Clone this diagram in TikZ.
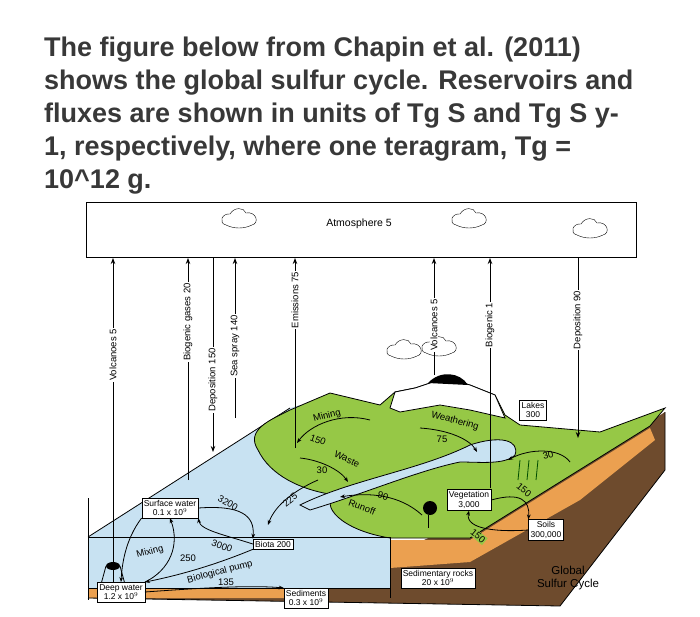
\documentclass[tikz,border=0pt]{standalone}
\usepackage{fontspec}
\setmainfont{Liberation Sans}
\usetikzlibrary{arrows.meta}
\definecolor{sea}{RGB}{200,226,242}
\definecolor{land}{RGB}{150,200,70}
\definecolor{soil}{RGB}{235,160,80}
\definecolor{rock}{RGB}{110,75,45}
\begin{document}
\begin{tikzpicture}[x=1pt,y=-1pt,
  lab/.style={font=\fontsize{9.5}{10}\selectfont,inner sep=1pt},
  rlab/.style={lab,rotate=90,fill=white},
  vbox/.style={draw,fill=white,font=\fontsize{8.5}{9.5}\selectfont,align=center,inner sep=2pt},
  flow/.style={-{Stealth[length=5pt]},thick},
  vline/.style={-{Stealth[length=6pt]},line width=1pt},
  ttl/.style={anchor=base west,font=\fontsize{27}{30}\selectfont\bfseries,text=black!78,inner sep=0pt},
  cloud/.style={draw,fill=white,thin}]
\useasboundingbox (0,0) rectangle (700,617);
\node[ttl] (t1) at (44,57) {The figure below from Chapin et al. (2011)};
\node[ttl] (t2) at (44,90) {shows the global sulfur cycle. Reservoirs and};
\node[ttl] (t3) at (44,123) {fluxes are shown in units of Tg S and Tg S y-};
\node[ttl] (t4) at (44,156) {1, respectively, where one teragram, Tg =};
\node[ttl] (t5) at (44,189) {10\^{}12 g.};
% ground shapes
\fill[rock] (88,598) -- (560,606) -- (665,470) -- (665,412) -- (560,480) -- (390,555) -- cycle;
\fill[soil] (88,585) -- (390,585) -- (390,540) -- (470,540) -- (650,428) -- (655,440) -- (580,500) -- (470,562) -- (390,568) -- (320,575) -- (300,598) -- (88,598) -- cycle;
\fill[sea] (88,537) -- (290,408) -- (300,405) -- (300,470) -- (390,537) -- (390,588) -- (88,588) -- cycle;
\draw[thick] (88,537) -- (290,408);
\draw[thick] (88,498) -- (88,600);
% land
\filldraw[fill=land,draw=black,thick] (258,450) .. controls (245,430) and (270,420) .. (290,410) -- (330,393) -- (380,405) -- (395,392) -- (415,388) -- (445,378) -- (470,385) -- (495,395) -- (505,415) -- (520,425) -- (600,432) -- (665,408) -- (650,426) -- (470,538) -- (390,538) .. controls (340,530) and (320,505) .. (335,495) .. controls (300,490) and (270,475) .. (258,450) -- cycle;
\filldraw[fill=white,draw=black,thick] (390,408) -- (395,392) -- (415,388) -- (445,378) -- (470,385) -- (495,395) -- (505,418) -- (470,410) -- (440,405) -- (400,412) -- cycle;
\fill (428,383) .. controls (440,370) and (460,372) .. (468,385) -- cycle;
\filldraw[fill=sea,draw=black,thick] (300,505) .. controls (350,480) and (420,470) .. (470,445) .. controls (500,435) and (520,440) .. (515,455) .. controls (505,465) and (480,462) .. (460,462) .. controls (420,470) and (360,495) .. (310,510) -- cycle;
% outline of front
\draw[thick] (88,537) -- (390,537);
\draw[thick] (390,537) -- (390,598);
\draw[thick] (88,588) -- (390,588);
\draw[thick] (560,606) -- (665,470) -- (665,412);
\draw[thick] (88,598) -- (560,606);
% atmosphere
\node[draw,thick,minimum width=550,minimum height=55,inner sep=0pt] (atm) at (361,230) {};
\node[lab,font=\fontsize{10.5}{11}\selectfont] (atl) at (359,224) {Atmosphere 5};
\foreach \cx/\cy in {240/219,470/219,591/229,405/350,440/347}{
  \draw[cloud] (\cx-14,\cy+6) .. controls (\cx-22,\cy+4) and (\cx-18,\cy-6) .. (\cx-10,\cy-5) .. controls (\cx-6,\cy-12) and (\cx+4,\cy-12) .. (\cx+6,\cy-6) .. controls (\cx+16,\cy-8) and (\cx+20,\cy+4) .. (\cx+12,\cy+6) .. controls (\cx+4,\cy+10) and (\cx-6,\cy+10) .. (\cx-14,\cy+6);
}
% vertical fluxes
\coordinate (v1) at (113,585);
\draw[vline] (v1) -- (113,258); \node[rlab] (l1) at (113,355) {Volcanoes 5};
\coordinate (v2) at (188,480); \draw[vline] (v2) -- (188,258); \node[rlab] (l2) at (188,322) {Biogenic gases 20};
\coordinate (v3) at (213,258); \draw[vline] (v3) -- (213,452); \node[rlab] (l3) at (213,380) {Deposition 150};
\coordinate (v4) at (235,418); \draw[vline] (v4) -- (235,258); \node[rlab] (l4) at (235,346) {Sea spray 140};
\coordinate (v5) at (295,448); \draw[vline] (v5) -- (295,258); \node[rlab] (l5) at (295,300) {Emissions 75};
\coordinate (v6) at (434,375); \draw[vline] (v6) -- (434,258); \node[rlab] (l6) at (434,325) {Volcanoes 5};
\coordinate (v7) at (490,488); \draw[vline] (v7) -- (490,258); \node[rlab] (l7) at (490,325) {Biogenic 1};
\coordinate (v8) at (578,258); \draw[vline] (v8) -- (578,438); \node[rlab] (l8) at (578,320) {Deposition 90};
\fill (113,566) ellipse (7 and 4);
\draw[thick] (106,566) -- (100,588) (120,566) -- (126,588);
% boxes
\node[vbox] (sw) at (170,508) {Surface water\\0.1 x 10$^9$};
\node[vbox] (dw) at (121,592) {Deep water\\1.2 x 10$^9$};
\node[vbox] (bio) at (273,544) {Biota 200};
\node[vbox] (sed) at (306,598) {Sediments\\0.3 x 10$^9$};
\node[vbox] (srock) at (438,578) {Sedimentary rocks\\20 x 10$^9$};
\node[vbox] (veg) at (469,500) {Vegetation\\3,000};
\node[vbox] (soil) at (546,530) {Soils\\300,000};
\node[vbox] (lake) at (533,410) {Lakes\\300};
\node[lab,font=\fontsize{11.5}{13}\selectfont,align=center] (gsc) at (568,578) {Global\\Sulfur Cycle};
% flows
\draw[flow] (sw.east) .. controls (240,505) and (255,515) .. (bio.north west);
\draw[flow] (bio.west) .. controls (225,535) and (200,530) .. (sw.south east);
\draw[flow] (318,480) .. controls (295,490) and (275,505) .. (268,525);
\draw[flow] (sw.south west) .. controls (125,540) and (122,565) .. (dw.north);
\draw[flow] (dw.north east) .. controls (170,570) and (180,545) .. (sw.south);
\draw[flow] (bio.south west) .. controls (215,565) and (180,575) .. (dw.north east);
\draw[flow] (dw.east) .. controls (200,588) and (250,585) .. (sed.north west);
\draw[flow] (370,420) .. controls (340,412) and (310,425) .. (297,443);
\draw[flow] (300,458) .. controls (320,460) and (340,470) .. (348,482);
\draw[flow] (422,515) .. controls (400,495) and (370,492) .. (340,497);
\draw[flow] (420,428) .. controls (450,430) and (470,440) .. (477,452);
\draw[flow] (570,462) .. controls (560,448) and (530,448) .. (508,460);
\draw[flow] (veg.east) .. controls (520,492) and (530,500) .. (soil.north west);
\draw[flow] (soil.west) .. controls (500,532) and (465,530) .. (veg.south);
% flow labels
\node[lab,rotate=15] (fm) at (327,416) {Mining};
\node[lab,rotate=-20] (f150a) at (318,440) {150};
\node[lab,rotate=-25] (fw) at (347,459) {Waste};
\node[lab] (f30a) at (322,470) {30};
\node[lab,rotate=-15] (f90) at (383,496) {90};
\node[lab,rotate=-20] (fr) at (362,507) {Runoff};
\node[lab,rotate=-15] (fwe) at (455,421) {Weathering};
\node[lab] (f75) at (442,439) {75};
\node[lab,rotate=15] (f30b) at (548,455) {30};
\node[lab,rotate=-40] (f150b) at (524,490) {150};
\node[lab,rotate=-40,fill=land] (f150c) at (478,536) {150};
\node[lab,rotate=-30] (f3200) at (228,503) {3200};
\node[lab,rotate=40] (f225) at (290,500) {225};
\node[lab,rotate=-20] (f3000) at (222,546) {3000};
\node[lab] (f250) at (188,558) {250};
\node[lab,rotate=15] (fbp) at (220,572) {Biological pump};
\node[lab,rotate=15] (fmix) at (150,552) {Mixing};
\node[lab,fill=sea] (f135) at (226,582) {135};
% trees/plants
\fill (430,508) circle (7);
\draw[thick] (428,515) -- (428,528);
\foreach \px in {518,527,536}{\draw[green!30!black,thick] (\px,480) -- (\px+2,460);}
\end{tikzpicture}
\end{document}
